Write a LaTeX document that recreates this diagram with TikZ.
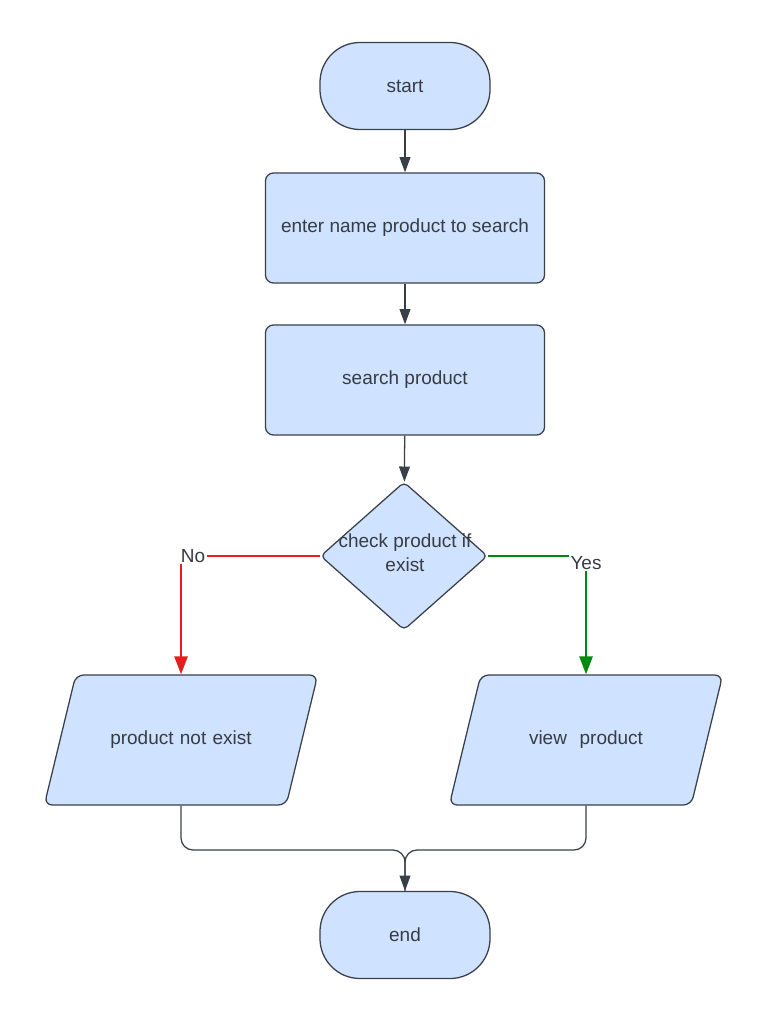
\documentclass[tikz,border=0pt]{standalone}
\usepackage{fontspec}
\setmainfont{Liberation Sans}
\usepackage{tikz}
\usetikzlibrary{arrows.meta, shapes.geometric, positioning, calc}
\usepackage{xcolor}
\definecolor{boxfill}{RGB}{207,226,255}
\definecolor{boxline}{RGB}{58,64,74}
\definecolor{txtgray}{RGB}{55,60,68}
\definecolor{noline}{RGB}{232,30,30}
\definecolor{yesline}{RGB}{0,138,14}

\begin{document}
\begin{tikzpicture}[x=0.025cm, y=-0.025cm,
    every node/.style={font=\fontsize{13.5}{17}\selectfont, text=txtgray},
    terminal/.style={rectangle, rounded corners=1cm, draw=boxline, fill=boxfill, line width=0.9pt, minimum width=4.25cm, minimum height=2.175cm, align=center},
    procbox/.style={rectangle, rounded corners=0.2cm, draw=boxline, fill=boxfill, line width=0.9pt, minimum width=6.975cm, minimum height=2.75cm, align=center},
    decision/.style={diamond, rounded corners=0.12cm, draw=boxline, fill=boxfill, line width=0.9pt, minimum width=4.175cm, minimum height=3.7cm, inner sep=0pt},
    iobox/.style={trapezium, trapezium stretches=true, trapezium left angle=49, trapezium right angle=131, rounded corners=0.2cm, draw=boxline, fill=boxfill, line width=0.9pt, text width=4.5cm, inner sep=0.2cm, minimum width=6.85cm, minimum height=3.25cm, align=center},
    arrow/.style={draw=boxline, line width=0.9pt, -{Triangle[length=0.38cm, width=0.27cm]}},
    yesno/.style={line width=1.5pt, -{Triangle[length=0.45cm, width=0.33cm]}},
    flowlabel/.style={fill=white, inner sep=1pt}
]
\useasboundingbox (0,0) rectangle (768,1024);

% terminals
\node[terminal] (start) at (405,86) {start};
\node[terminal] (fin) at (405,935) {end};

% steps
\node[procbox] (enter) at (405,228) {enter name product to search};
\node[procbox] (search) at (405,380) {search product};

% decision
\node[decision] (chk) at (404,556) {};
\node[align=center] (chklbl) at (405,553) {check product if\\exist};

% outputs
\node[iobox] (noex) at (181,740) {product not exist};
\node[iobox] (viewp) at (586,740) {view\ \ product};

% flow
\draw[arrow] (start) -- (enter);
\draw[arrow] (enter) -- (search);
\draw[arrow] (search) -- (chk);
\draw[yesno, draw=noline] (chk.west) -| node[pos=0.5, flowlabel, xshift=0.3cm] (nolbl) {No} (noex);
\draw[yesno, draw=yesline] (chk.east) -| node[pos=0.5, flowlabel, yshift=-0.18cm] (yeslbl) {Yes} (viewp);

% merge
\coordinate (join) at (405,850);
\draw[arrow, rounded corners=0.3cm] (noex) |- (join) -- (fin);
\draw[draw=boxline, line width=0.9pt, rounded corners=0.3cm] (viewp) |- (join) -- (fin);
\end{tikzpicture}
\end{document}
